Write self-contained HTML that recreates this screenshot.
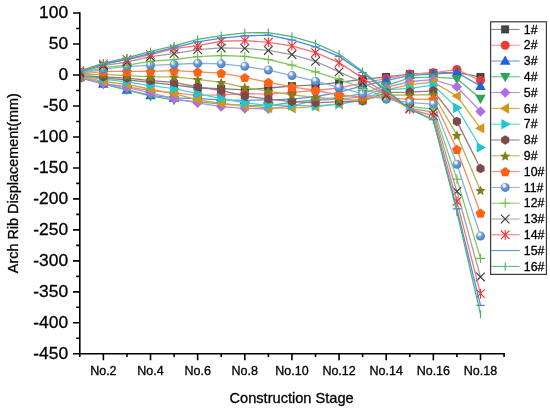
<!DOCTYPE html>
<html><head><meta charset="utf-8"><title>Arch Rib Displacement</title>
<style>html,body{margin:0;padding:0;background:#fff;width:550px;height:410px;overflow:hidden}svg{display:block;filter:blur(0.3px)}</style>
</head><body>
<svg width="550" height="410" viewBox="0 0 550 410">
<defs><radialGradient id="sph" cx="0.4" cy="0.35" r="0.65" fx="0.38" fy="0.3"><stop offset="0" stop-color="#ffffff"/><stop offset="0.22" stop-color="#dce8f6"/><stop offset="0.45" stop-color="#6f9dd6"/><stop offset="1" stop-color="#4a7fc2"/></radialGradient><clipPath id="pc"><rect x="80.6" y="0" width="470" height="353"/></clipPath></defs>
<rect width="550" height="410" fill="#fff"/>
<g clip-path="url(#pc)">
<polyline points="79.80,76.24 103.37,78.10 126.94,79.96 150.51,82.43 174.08,84.91 197.65,88.01 221.22,88.63 244.79,89.87 268.36,88.01 291.93,86.15 315.50,84.91 339.07,82.43 362.64,79.34 386.21,76.86 409.78,74.07 433.35,72.83 456.92,72.52 480.49,76.86" fill="none" stroke="#7e7e7e" stroke-width="1.3"/>
<rect x="76.20" y="72.64" width="7.20" height="7.20" fill="#454545" stroke="#2a2a2a" stroke-width="0.6"/>
<rect x="99.77" y="74.50" width="7.20" height="7.20" fill="#454545" stroke="#2a2a2a" stroke-width="0.6"/>
<rect x="123.34" y="76.36" width="7.20" height="7.20" fill="#454545" stroke="#2a2a2a" stroke-width="0.6"/>
<rect x="146.91" y="78.83" width="7.20" height="7.20" fill="#454545" stroke="#2a2a2a" stroke-width="0.6"/>
<rect x="170.48" y="81.31" width="7.20" height="7.20" fill="#454545" stroke="#2a2a2a" stroke-width="0.6"/>
<rect x="194.05" y="84.41" width="7.20" height="7.20" fill="#454545" stroke="#2a2a2a" stroke-width="0.6"/>
<rect x="217.62" y="85.03" width="7.20" height="7.20" fill="#454545" stroke="#2a2a2a" stroke-width="0.6"/>
<rect x="241.19" y="86.27" width="7.20" height="7.20" fill="#454545" stroke="#2a2a2a" stroke-width="0.6"/>
<rect x="264.76" y="84.41" width="7.20" height="7.20" fill="#454545" stroke="#2a2a2a" stroke-width="0.6"/>
<rect x="288.33" y="82.55" width="7.20" height="7.20" fill="#454545" stroke="#2a2a2a" stroke-width="0.6"/>
<rect x="311.90" y="81.31" width="7.20" height="7.20" fill="#454545" stroke="#2a2a2a" stroke-width="0.6"/>
<rect x="335.47" y="78.83" width="7.20" height="7.20" fill="#454545" stroke="#2a2a2a" stroke-width="0.6"/>
<rect x="359.04" y="75.74" width="7.20" height="7.20" fill="#454545" stroke="#2a2a2a" stroke-width="0.6"/>
<rect x="382.61" y="73.26" width="7.20" height="7.20" fill="#454545" stroke="#2a2a2a" stroke-width="0.6"/>
<rect x="406.18" y="70.47" width="7.20" height="7.20" fill="#454545" stroke="#2a2a2a" stroke-width="0.6"/>
<rect x="429.75" y="69.23" width="7.20" height="7.20" fill="#454545" stroke="#2a2a2a" stroke-width="0.6"/>
<rect x="453.32" y="68.92" width="7.20" height="7.20" fill="#454545" stroke="#2a2a2a" stroke-width="0.6"/>
<rect x="476.89" y="73.26" width="7.20" height="7.20" fill="#454545" stroke="#2a2a2a" stroke-width="0.6"/>
<polyline points="79.80,78.10 103.37,83.67 126.94,86.77 150.51,90.49 174.08,92.97 197.65,95.44 221.22,94.82 244.79,93.59 268.36,94.20 291.93,92.35 315.50,90.49 339.07,88.01 362.64,83.05 386.21,78.72 409.78,74.07 433.35,72.83 456.92,69.42 480.49,80.58" fill="none" stroke="#f08a8a" stroke-width="1.3"/>
<circle cx="79.80" cy="78.10" r="4.5" fill="#ec3a3a"/>
<circle cx="103.37" cy="83.67" r="4.5" fill="#ec3a3a"/>
<circle cx="126.94" cy="86.77" r="4.5" fill="#ec3a3a"/>
<circle cx="150.51" cy="90.49" r="4.5" fill="#ec3a3a"/>
<circle cx="174.08" cy="92.97" r="4.5" fill="#ec3a3a"/>
<circle cx="197.65" cy="95.44" r="4.5" fill="#ec3a3a"/>
<circle cx="221.22" cy="94.82" r="4.5" fill="#ec3a3a"/>
<circle cx="244.79" cy="93.59" r="4.5" fill="#ec3a3a"/>
<circle cx="268.36" cy="94.20" r="4.5" fill="#ec3a3a"/>
<circle cx="291.93" cy="92.35" r="4.5" fill="#ec3a3a"/>
<circle cx="315.50" cy="90.49" r="4.5" fill="#ec3a3a"/>
<circle cx="339.07" cy="88.01" r="4.5" fill="#ec3a3a"/>
<circle cx="362.64" cy="83.05" r="4.5" fill="#ec3a3a"/>
<circle cx="386.21" cy="78.72" r="4.5" fill="#ec3a3a"/>
<circle cx="409.78" cy="74.07" r="4.5" fill="#ec3a3a"/>
<circle cx="433.35" cy="72.83" r="4.5" fill="#ec3a3a"/>
<circle cx="456.92" cy="69.42" r="4.5" fill="#ec3a3a"/>
<circle cx="480.49" cy="80.58" r="4.5" fill="#ec3a3a"/>
<polyline points="79.80,77.48 103.37,83.98 126.94,89.87 150.51,95.44 174.08,97.92 197.65,98.54 221.22,99.78 244.79,100.40 268.36,99.78 291.93,99.16 315.50,96.68 339.07,92.35 362.64,85.53 386.21,80.58 409.78,75.31 433.35,74.07 456.92,72.52 480.49,86.15" fill="none" stroke="#5c90e8" stroke-width="1.3"/>
<polygon points="79.80,71.98 85.10,81.28 74.50,81.28" fill="#1f62e0"/>
<polygon points="103.37,78.48 108.67,87.78 98.07,87.78" fill="#1f62e0"/>
<polygon points="126.94,84.37 132.24,93.67 121.64,93.67" fill="#1f62e0"/>
<polygon points="150.51,89.94 155.81,99.24 145.21,99.24" fill="#1f62e0"/>
<polygon points="174.08,92.42 179.38,101.72 168.78,101.72" fill="#1f62e0"/>
<polygon points="197.65,93.04 202.95,102.34 192.35,102.34" fill="#1f62e0"/>
<polygon points="221.22,94.28 226.52,103.58 215.92,103.58" fill="#1f62e0"/>
<polygon points="244.79,94.90 250.09,104.20 239.49,104.20" fill="#1f62e0"/>
<polygon points="268.36,94.28 273.66,103.58 263.06,103.58" fill="#1f62e0"/>
<polygon points="291.93,93.66 297.23,102.96 286.63,102.96" fill="#1f62e0"/>
<polygon points="315.50,91.18 320.80,100.48 310.20,100.48" fill="#1f62e0"/>
<polygon points="339.07,86.85 344.37,96.15 333.77,96.15" fill="#1f62e0"/>
<polygon points="362.64,80.03 367.94,89.33 357.34,89.33" fill="#1f62e0"/>
<polygon points="386.21,75.08 391.51,84.38 380.91,84.38" fill="#1f62e0"/>
<polygon points="409.78,69.81 415.08,79.11 404.48,79.11" fill="#1f62e0"/>
<polygon points="433.35,68.57 438.65,77.87 428.05,77.87" fill="#1f62e0"/>
<polygon points="456.92,67.02 462.22,76.32 451.62,76.32" fill="#1f62e0"/>
<polygon points="480.49,80.65 485.79,89.95 475.19,89.95" fill="#1f62e0"/>
<polyline points="79.80,76.86 103.37,83.98 126.94,89.87 150.51,96.06 174.08,99.78 197.65,101.64 221.22,104.12 244.79,105.36 268.36,105.97 291.93,102.26 315.50,99.78 339.07,97.30 362.64,93.59 386.21,85.53 409.78,77.79 433.35,77.17 456.92,78.72 480.49,98.54" fill="none" stroke="#5cb884" stroke-width="1.3"/>
<polygon points="79.80,82.36 85.10,73.06 74.50,73.06" fill="#2ea35e"/>
<polygon points="103.37,89.48 108.67,80.18 98.07,80.18" fill="#2ea35e"/>
<polygon points="126.94,95.37 132.24,86.07 121.64,86.07" fill="#2ea35e"/>
<polygon points="150.51,101.56 155.81,92.26 145.21,92.26" fill="#2ea35e"/>
<polygon points="174.08,105.28 179.38,95.98 168.78,95.98" fill="#2ea35e"/>
<polygon points="197.65,107.14 202.95,97.84 192.35,97.84" fill="#2ea35e"/>
<polygon points="221.22,109.62 226.52,100.32 215.92,100.32" fill="#2ea35e"/>
<polygon points="244.79,110.86 250.09,101.56 239.49,101.56" fill="#2ea35e"/>
<polygon points="268.36,111.47 273.66,102.17 263.06,102.17" fill="#2ea35e"/>
<polygon points="291.93,107.76 297.23,98.46 286.63,98.46" fill="#2ea35e"/>
<polygon points="315.50,105.28 320.80,95.98 310.20,95.98" fill="#2ea35e"/>
<polygon points="339.07,102.80 344.37,93.50 333.77,93.50" fill="#2ea35e"/>
<polygon points="362.64,99.09 367.94,89.79 357.34,89.79" fill="#2ea35e"/>
<polygon points="386.21,91.03 391.51,81.73 380.91,81.73" fill="#2ea35e"/>
<polygon points="409.78,83.29 415.08,73.99 404.48,73.99" fill="#2ea35e"/>
<polygon points="433.35,82.67 438.65,73.37 428.05,73.37" fill="#2ea35e"/>
<polygon points="456.92,84.22 462.22,74.92 451.62,74.92" fill="#2ea35e"/>
<polygon points="480.49,104.04 485.79,94.74 475.19,94.74" fill="#2ea35e"/>
<polyline points="79.80,76.86 103.37,83.36 126.94,87.39 150.51,92.97 174.08,98.54 197.65,102.88 221.22,106.59 244.79,108.45 268.36,108.76 291.93,105.97 315.50,100.40 339.07,99.16 362.64,96.68 386.21,87.39 409.78,81.50 433.35,79.65 456.92,86.77 480.49,111.55" fill="none" stroke="#b888ea" stroke-width="1.3"/>
<polygon points="79.80,71.66 85.00,76.86 79.80,82.06 74.60,76.86" fill="#b06ee6"/>
<polygon points="103.37,78.16 108.57,83.36 103.37,88.56 98.17,83.36" fill="#b06ee6"/>
<polygon points="126.94,82.19 132.14,87.39 126.94,92.59 121.74,87.39" fill="#b06ee6"/>
<polygon points="150.51,87.77 155.71,92.97 150.51,98.17 145.31,92.97" fill="#b06ee6"/>
<polygon points="174.08,93.34 179.28,98.54 174.08,103.74 168.88,98.54" fill="#b06ee6"/>
<polygon points="197.65,97.68 202.85,102.88 197.65,108.08 192.45,102.88" fill="#b06ee6"/>
<polygon points="221.22,101.39 226.42,106.59 221.22,111.79 216.02,106.59" fill="#b06ee6"/>
<polygon points="244.79,103.25 249.99,108.45 244.79,113.65 239.59,108.45" fill="#b06ee6"/>
<polygon points="268.36,103.56 273.56,108.76 268.36,113.96 263.16,108.76" fill="#b06ee6"/>
<polygon points="291.93,100.77 297.13,105.97 291.93,111.17 286.73,105.97" fill="#b06ee6"/>
<polygon points="315.50,95.20 320.70,100.40 315.50,105.60 310.30,100.40" fill="#b06ee6"/>
<polygon points="339.07,93.96 344.27,99.16 339.07,104.36 333.87,99.16" fill="#b06ee6"/>
<polygon points="362.64,91.48 367.84,96.68 362.64,101.88 357.44,96.68" fill="#b06ee6"/>
<polygon points="386.21,82.19 391.41,87.39 386.21,92.59 381.01,87.39" fill="#b06ee6"/>
<polygon points="409.78,76.30 414.98,81.50 409.78,86.70 404.58,81.50" fill="#b06ee6"/>
<polygon points="433.35,74.45 438.55,79.65 433.35,84.85 428.15,79.65" fill="#b06ee6"/>
<polygon points="456.92,81.57 462.12,86.77 456.92,91.97 451.72,86.77" fill="#b06ee6"/>
<polygon points="480.49,106.35 485.69,111.55 480.49,116.75 475.29,111.55" fill="#b06ee6"/>
<polyline points="79.80,76.24 103.37,81.50 126.94,84.29 150.51,89.25 174.08,93.59 197.65,99.78 221.22,103.50 244.79,105.97 268.36,107.83 291.93,108.14 315.50,106.59 339.07,104.12 362.64,99.78 386.21,89.87 409.78,84.60 433.35,82.12 456.92,96.06 480.49,128.28" fill="none" stroke="#d6a43a" stroke-width="1.3"/>
<polygon points="74.30,76.24 83.60,70.94 83.60,81.54" fill="#d0971a"/>
<polygon points="97.87,81.50 107.17,76.20 107.17,86.80" fill="#d0971a"/>
<polygon points="121.44,84.29 130.74,78.99 130.74,89.59" fill="#d0971a"/>
<polygon points="145.01,89.25 154.31,83.95 154.31,94.55" fill="#d0971a"/>
<polygon points="168.58,93.59 177.88,88.29 177.88,98.89" fill="#d0971a"/>
<polygon points="192.15,99.78 201.45,94.48 201.45,105.08" fill="#d0971a"/>
<polygon points="215.72,103.50 225.02,98.20 225.02,108.80" fill="#d0971a"/>
<polygon points="239.29,105.97 248.59,100.67 248.59,111.27" fill="#d0971a"/>
<polygon points="262.86,107.83 272.16,102.53 272.16,113.13" fill="#d0971a"/>
<polygon points="286.43,108.14 295.73,102.84 295.73,113.44" fill="#d0971a"/>
<polygon points="310.00,106.59 319.30,101.29 319.30,111.89" fill="#d0971a"/>
<polygon points="333.57,104.12 342.87,98.82 342.87,109.42" fill="#d0971a"/>
<polygon points="357.14,99.78 366.44,94.48 366.44,105.08" fill="#d0971a"/>
<polygon points="380.71,89.87 390.01,84.57 390.01,95.17" fill="#d0971a"/>
<polygon points="404.28,84.60 413.58,79.30 413.58,89.90" fill="#d0971a"/>
<polygon points="427.85,82.12 437.15,76.82 437.15,87.42" fill="#d0971a"/>
<polygon points="451.42,96.06 460.72,90.76 460.72,101.36" fill="#d0971a"/>
<polygon points="474.99,128.28 484.29,122.98 484.29,133.58" fill="#d0971a"/>
<polyline points="79.80,75.62 103.37,79.03 126.94,81.81 150.51,85.53 174.08,88.63 197.65,93.59 221.22,98.54 244.79,102.88 268.36,105.36 291.93,105.36 315.50,105.97 339.07,104.12 362.64,99.78 386.21,89.87 409.78,88.32 433.35,85.22 456.92,107.83 480.49,147.48" fill="none" stroke="#48d0d6" stroke-width="1.3"/>
<polygon points="85.30,75.62 76.00,70.32 76.00,80.92" fill="#1fc6cc"/>
<polygon points="108.87,79.03 99.57,73.73 99.57,84.33" fill="#1fc6cc"/>
<polygon points="132.44,81.81 123.14,76.51 123.14,87.11" fill="#1fc6cc"/>
<polygon points="156.01,85.53 146.71,80.23 146.71,90.83" fill="#1fc6cc"/>
<polygon points="179.58,88.63 170.28,83.33 170.28,93.93" fill="#1fc6cc"/>
<polygon points="203.15,93.59 193.85,88.29 193.85,98.89" fill="#1fc6cc"/>
<polygon points="226.72,98.54 217.42,93.24 217.42,103.84" fill="#1fc6cc"/>
<polygon points="250.29,102.88 240.99,97.58 240.99,108.18" fill="#1fc6cc"/>
<polygon points="273.86,105.36 264.56,100.06 264.56,110.66" fill="#1fc6cc"/>
<polygon points="297.43,105.36 288.13,100.06 288.13,110.66" fill="#1fc6cc"/>
<polygon points="321.00,105.97 311.70,100.67 311.70,111.27" fill="#1fc6cc"/>
<polygon points="344.57,104.12 335.27,98.82 335.27,109.42" fill="#1fc6cc"/>
<polygon points="368.14,99.78 358.84,94.48 358.84,105.08" fill="#1fc6cc"/>
<polygon points="391.71,89.87 382.41,84.57 382.41,95.17" fill="#1fc6cc"/>
<polygon points="415.28,88.32 405.98,83.02 405.98,93.62" fill="#1fc6cc"/>
<polygon points="438.85,85.22 429.55,79.92 429.55,90.52" fill="#1fc6cc"/>
<polygon points="462.42,107.83 453.12,102.53 453.12,113.13" fill="#1fc6cc"/>
<polygon points="485.99,147.48 476.69,142.18 476.69,152.78" fill="#1fc6cc"/>
<polyline points="79.80,75.62 103.37,76.86 126.94,78.10 150.51,80.58 174.08,82.43 197.65,86.77 221.22,90.49 244.79,96.06 268.36,99.16 291.93,101.64 315.50,102.88 339.07,101.64 362.64,101.02 386.21,92.35 409.78,92.04 433.35,90.80 456.92,121.46 480.49,168.54" fill="none" stroke="#9c7474" stroke-width="1.3"/>
<polygon points="79.80,80.32 75.73,77.97 75.73,73.27 79.80,70.92 83.87,73.27 83.87,77.97" fill="#7a4a4a"/>
<polygon points="103.37,81.56 99.30,79.21 99.30,74.51 103.37,72.16 107.44,74.51 107.44,79.21" fill="#7a4a4a"/>
<polygon points="126.94,82.80 122.87,80.45 122.87,75.75 126.94,73.40 131.01,75.75 131.01,80.45" fill="#7a4a4a"/>
<polygon points="150.51,85.28 146.44,82.93 146.44,78.23 150.51,75.88 154.58,78.23 154.58,82.93" fill="#7a4a4a"/>
<polygon points="174.08,87.13 170.01,84.78 170.01,80.08 174.08,77.73 178.15,80.08 178.15,84.78" fill="#7a4a4a"/>
<polygon points="197.65,91.47 193.58,89.12 193.58,84.42 197.65,82.07 201.72,84.42 201.72,89.12" fill="#7a4a4a"/>
<polygon points="221.22,95.19 217.15,92.84 217.15,88.14 221.22,85.79 225.29,88.14 225.29,92.84" fill="#7a4a4a"/>
<polygon points="244.79,100.76 240.72,98.41 240.72,93.71 244.79,91.36 248.86,93.71 248.86,98.41" fill="#7a4a4a"/>
<polygon points="268.36,103.86 264.29,101.51 264.29,96.81 268.36,94.46 272.43,96.81 272.43,101.51" fill="#7a4a4a"/>
<polygon points="291.93,106.34 287.86,103.99 287.86,99.29 291.93,96.94 296.00,99.29 296.00,103.99" fill="#7a4a4a"/>
<polygon points="315.50,107.58 311.43,105.23 311.43,100.53 315.50,98.18 319.57,100.53 319.57,105.23" fill="#7a4a4a"/>
<polygon points="339.07,106.34 335.00,103.99 335.00,99.29 339.07,96.94 343.14,99.29 343.14,103.99" fill="#7a4a4a"/>
<polygon points="362.64,105.72 358.57,103.37 358.57,98.67 362.64,96.32 366.71,98.67 366.71,103.37" fill="#7a4a4a"/>
<polygon points="386.21,97.05 382.14,94.70 382.14,90.00 386.21,87.65 390.28,90.00 390.28,94.70" fill="#7a4a4a"/>
<polygon points="409.78,96.74 405.71,94.39 405.71,89.69 409.78,87.34 413.85,89.69 413.85,94.39" fill="#7a4a4a"/>
<polygon points="433.35,95.50 429.28,93.15 429.28,88.45 433.35,86.10 437.42,88.45 437.42,93.15" fill="#7a4a4a"/>
<polygon points="456.92,126.16 452.85,123.81 452.85,119.11 456.92,116.76 460.99,119.11 460.99,123.81" fill="#7a4a4a"/>
<polygon points="480.49,173.24 476.42,170.89 476.42,166.19 480.49,163.84 484.56,166.19 484.56,170.89" fill="#7a4a4a"/>
<polyline points="79.80,75.00 103.37,74.38 126.94,75.62 150.51,76.86 174.08,76.86 197.65,79.34 221.22,82.43 244.79,87.39 268.36,91.11 291.93,94.82 315.50,97.30 339.07,99.16 362.64,100.40 386.21,94.82 409.78,95.13 433.35,94.51 456.92,135.09 480.49,190.23" fill="none" stroke="#b2b258" stroke-width="1.3"/>
<polygon points="79.80,70.20 81.27,73.58 84.94,73.93 82.18,76.37 82.97,79.97 79.80,78.10 76.63,79.97 77.42,76.37 74.66,73.93 78.33,73.58" fill="#80801a"/>
<polygon points="103.37,69.58 104.84,72.96 108.51,73.31 105.75,75.75 106.54,79.35 103.37,77.48 100.20,79.35 100.99,75.75 98.23,73.31 101.90,72.96" fill="#80801a"/>
<polygon points="126.94,70.82 128.41,74.20 132.08,74.55 129.32,76.99 130.11,80.59 126.94,78.72 123.77,80.59 124.56,76.99 121.80,74.55 125.47,74.20" fill="#80801a"/>
<polygon points="150.51,72.06 151.98,75.44 155.65,75.79 152.89,78.23 153.68,81.83 150.51,79.96 147.34,81.83 148.13,78.23 145.37,75.79 149.04,75.44" fill="#80801a"/>
<polygon points="174.08,72.06 175.55,75.44 179.22,75.79 176.46,78.23 177.25,81.83 174.08,79.96 170.91,81.83 171.70,78.23 168.94,75.79 172.61,75.44" fill="#80801a"/>
<polygon points="197.65,74.54 199.12,77.91 202.79,78.27 200.03,80.71 200.82,84.31 197.65,82.44 194.48,84.31 195.27,80.71 192.51,78.27 196.18,77.91" fill="#80801a"/>
<polygon points="221.22,77.63 222.69,81.01 226.36,81.37 223.60,83.81 224.39,87.40 221.22,85.53 218.05,87.40 218.84,83.81 216.08,81.37 219.75,81.01" fill="#80801a"/>
<polygon points="244.79,82.59 246.26,85.97 249.93,86.32 247.17,88.76 247.96,92.36 244.79,90.49 241.62,92.36 242.41,88.76 239.65,86.32 243.32,85.97" fill="#80801a"/>
<polygon points="268.36,86.31 269.83,89.68 273.50,90.04 270.74,92.48 271.53,96.08 268.36,94.21 265.19,96.08 265.98,92.48 263.22,90.04 266.89,89.68" fill="#80801a"/>
<polygon points="291.93,90.02 293.40,93.40 297.07,93.76 294.31,96.20 295.10,99.79 291.93,97.92 288.76,99.79 289.55,96.20 286.79,93.76 290.46,93.40" fill="#80801a"/>
<polygon points="315.50,92.50 316.97,95.88 320.64,96.23 317.88,98.67 318.67,102.27 315.50,100.40 312.33,102.27 313.12,98.67 310.36,96.23 314.03,95.88" fill="#80801a"/>
<polygon points="339.07,94.36 340.54,97.74 344.21,98.09 341.45,100.53 342.24,104.13 339.07,102.26 335.90,104.13 336.69,100.53 333.93,98.09 337.60,97.74" fill="#80801a"/>
<polygon points="362.64,95.60 364.11,98.98 367.78,99.33 365.02,101.77 365.81,105.37 362.64,103.50 359.47,105.37 360.26,101.77 357.50,99.33 361.17,98.98" fill="#80801a"/>
<polygon points="386.21,90.02 387.68,93.40 391.35,93.76 388.59,96.20 389.38,99.79 386.21,97.92 383.04,99.79 383.83,96.20 381.07,93.76 384.74,93.40" fill="#80801a"/>
<polygon points="409.78,90.33 411.25,93.71 414.92,94.07 412.16,96.51 412.95,100.10 409.78,98.23 406.61,100.10 407.40,96.51 404.64,94.07 408.31,93.71" fill="#80801a"/>
<polygon points="433.35,89.71 434.82,93.09 438.49,93.45 435.73,95.89 436.52,99.48 433.35,97.61 430.18,99.48 430.97,95.89 428.21,93.45 431.88,93.09" fill="#80801a"/>
<polygon points="456.92,130.29 458.39,133.67 462.06,134.02 459.30,136.46 460.09,140.06 456.92,138.19 453.75,140.06 454.54,136.46 451.78,134.02 455.45,133.67" fill="#80801a"/>
<polygon points="480.49,185.43 481.96,188.80 485.63,189.16 482.87,191.60 483.66,195.20 480.49,193.33 477.32,195.20 478.11,191.60 475.35,189.16 479.02,188.80" fill="#80801a"/>
<polyline points="79.80,74.38 103.37,71.28 126.94,71.28 150.51,71.28 174.08,70.66 197.65,71.90 221.22,73.14 244.79,77.48 268.36,82.43 291.93,86.77 315.50,90.49 339.07,94.82 362.64,96.99 386.21,97.92 409.78,99.47 433.35,99.16 456.92,149.34 480.49,213.15" fill="none" stroke="#f78c56" stroke-width="1.3"/>
<polygon points="79.80,69.78 84.65,73.30 82.80,79.01 76.80,79.01 74.95,73.30" fill="#ff6212"/>
<polygon points="103.37,66.68 108.22,70.21 106.37,75.91 100.37,75.91 98.52,70.21" fill="#ff6212"/>
<polygon points="126.94,66.68 131.79,70.21 129.94,75.91 123.94,75.91 122.09,70.21" fill="#ff6212"/>
<polygon points="150.51,66.68 155.36,70.21 153.51,75.91 147.51,75.91 145.66,70.21" fill="#ff6212"/>
<polygon points="174.08,66.06 178.93,69.59 177.08,75.29 171.08,75.29 169.23,69.59" fill="#ff6212"/>
<polygon points="197.65,67.30 202.50,70.83 200.65,76.53 194.65,76.53 192.80,70.83" fill="#ff6212"/>
<polygon points="221.22,68.54 226.07,72.07 224.22,77.77 218.22,77.77 216.37,72.07" fill="#ff6212"/>
<polygon points="244.79,72.88 249.64,76.40 247.79,82.10 241.79,82.10 239.94,76.40" fill="#ff6212"/>
<polygon points="268.36,77.83 273.21,81.36 271.36,87.06 265.36,87.06 263.51,81.36" fill="#ff6212"/>
<polygon points="291.93,82.17 296.78,85.69 294.93,91.40 288.93,91.40 287.08,85.69" fill="#ff6212"/>
<polygon points="315.50,85.89 320.35,89.41 318.50,95.11 312.50,95.11 310.65,89.41" fill="#ff6212"/>
<polygon points="339.07,90.22 343.92,93.75 342.07,99.45 336.07,99.45 334.22,93.75" fill="#ff6212"/>
<polygon points="362.64,92.39 367.49,95.92 365.64,101.62 359.64,101.62 357.79,95.92" fill="#ff6212"/>
<polygon points="386.21,93.32 391.06,96.85 389.21,102.55 383.21,102.55 381.36,96.85" fill="#ff6212"/>
<polygon points="409.78,94.87 414.63,98.39 412.78,104.10 406.78,104.10 404.93,98.39" fill="#ff6212"/>
<polygon points="433.35,94.56 438.20,98.08 436.35,103.79 430.35,103.79 428.50,98.08" fill="#ff6212"/>
<polygon points="456.92,144.74 461.77,148.26 459.92,153.97 453.92,153.97 452.07,148.26" fill="#ff6212"/>
<polygon points="480.49,208.55 485.34,212.07 483.49,217.77 477.49,217.77 475.64,212.07" fill="#ff6212"/>
<polyline points="79.80,73.76 103.37,69.11 126.94,66.33 150.51,65.40 174.08,64.47 197.65,63.23 221.22,63.85 244.79,66.33 268.36,70.04 291.93,75.62 315.50,81.19 339.07,87.39 362.64,93.89 386.21,99.16 409.78,102.57 433.35,104.12 456.92,164.21 480.49,236.07" fill="none" stroke="#8ab0e0" stroke-width="1.3"/>
<circle cx="79.80" cy="73.76" r="4.5" fill="url(#sph)"/>
<circle cx="103.37" cy="69.11" r="4.5" fill="url(#sph)"/>
<circle cx="126.94" cy="66.33" r="4.5" fill="url(#sph)"/>
<circle cx="150.51" cy="65.40" r="4.5" fill="url(#sph)"/>
<circle cx="174.08" cy="64.47" r="4.5" fill="url(#sph)"/>
<circle cx="197.65" cy="63.23" r="4.5" fill="url(#sph)"/>
<circle cx="221.22" cy="63.85" r="4.5" fill="url(#sph)"/>
<circle cx="244.79" cy="66.33" r="4.5" fill="url(#sph)"/>
<circle cx="268.36" cy="70.04" r="4.5" fill="url(#sph)"/>
<circle cx="291.93" cy="75.62" r="4.5" fill="url(#sph)"/>
<circle cx="315.50" cy="81.19" r="4.5" fill="url(#sph)"/>
<circle cx="339.07" cy="87.39" r="4.5" fill="url(#sph)"/>
<circle cx="362.64" cy="93.89" r="4.5" fill="url(#sph)"/>
<circle cx="386.21" cy="99.16" r="4.5" fill="url(#sph)"/>
<circle cx="409.78" cy="102.57" r="4.5" fill="url(#sph)"/>
<circle cx="433.35" cy="104.12" r="4.5" fill="url(#sph)"/>
<circle cx="456.92" cy="164.21" r="4.5" fill="url(#sph)"/>
<circle cx="480.49" cy="236.07" r="4.5" fill="url(#sph)"/>
<polyline points="79.80,73.14 103.37,67.57 126.94,65.09 150.51,61.37 174.08,59.51 197.65,56.72 221.22,55.49 244.79,56.41 268.36,59.51 291.93,65.09 315.50,71.90 339.07,79.34 362.64,88.01 386.21,97.30 409.78,106.59 433.35,109.07 456.92,179.08 480.49,258.37" fill="none" stroke="#84c866" stroke-width="1.3"/>
<path d="M75.20 73.14H84.40M79.80 68.54V77.74" stroke="#6cbf3c" stroke-width="1.1" fill="none"/>
<path d="M98.77 67.57H107.97M103.37 62.97V72.17" stroke="#6cbf3c" stroke-width="1.1" fill="none"/>
<path d="M122.34 65.09H131.54M126.94 60.49V69.69" stroke="#6cbf3c" stroke-width="1.1" fill="none"/>
<path d="M145.91 61.37H155.11M150.51 56.77V65.97" stroke="#6cbf3c" stroke-width="1.1" fill="none"/>
<path d="M169.48 59.51H178.68M174.08 54.91V64.11" stroke="#6cbf3c" stroke-width="1.1" fill="none"/>
<path d="M193.05 56.72H202.25M197.65 52.12V61.32" stroke="#6cbf3c" stroke-width="1.1" fill="none"/>
<path d="M216.62 55.49H225.82M221.22 50.89V60.09" stroke="#6cbf3c" stroke-width="1.1" fill="none"/>
<path d="M240.19 56.41H249.39M244.79 51.81V61.02" stroke="#6cbf3c" stroke-width="1.1" fill="none"/>
<path d="M263.76 59.51H272.96M268.36 54.91V64.11" stroke="#6cbf3c" stroke-width="1.1" fill="none"/>
<path d="M287.33 65.09H296.53M291.93 60.49V69.69" stroke="#6cbf3c" stroke-width="1.1" fill="none"/>
<path d="M310.90 71.90H320.10M315.50 67.30V76.50" stroke="#6cbf3c" stroke-width="1.1" fill="none"/>
<path d="M334.47 79.34H343.67M339.07 74.74V83.94" stroke="#6cbf3c" stroke-width="1.1" fill="none"/>
<path d="M358.04 88.01H367.24M362.64 83.41V92.61" stroke="#6cbf3c" stroke-width="1.1" fill="none"/>
<path d="M381.61 97.30H390.81M386.21 92.70V101.90" stroke="#6cbf3c" stroke-width="1.1" fill="none"/>
<path d="M405.18 106.59H414.38M409.78 101.99V111.19" stroke="#6cbf3c" stroke-width="1.1" fill="none"/>
<path d="M428.75 109.07H437.95M433.35 104.47V113.67" stroke="#6cbf3c" stroke-width="1.1" fill="none"/>
<path d="M452.32 179.08H461.52M456.92 174.48V183.68" stroke="#6cbf3c" stroke-width="1.1" fill="none"/>
<path d="M475.89 258.37H485.09M480.49 253.77V262.97" stroke="#6cbf3c" stroke-width="1.1" fill="none"/>
<polyline points="79.80,72.52 103.37,65.71 126.94,61.99 150.51,56.72 174.08,53.63 197.65,49.60 221.22,47.93 244.79,48.36 268.36,50.41 291.93,54.56 315.50,61.37 339.07,71.90 362.64,82.43 386.21,95.44 409.78,108.45 433.35,112.17 456.92,191.47 480.49,276.96" fill="none" stroke="#a0a0a0" stroke-width="1.3"/>
<path d="M75.50 68.22L84.10 76.82M75.50 76.82L84.10 68.22" stroke="#404040" stroke-width="1.2" fill="none"/>
<path d="M99.07 61.41L107.67 70.01M99.07 70.01L107.67 61.41" stroke="#404040" stroke-width="1.2" fill="none"/>
<path d="M122.64 57.69L131.24 66.29M122.64 66.29L131.24 57.69" stroke="#404040" stroke-width="1.2" fill="none"/>
<path d="M146.21 52.42L154.81 61.02M146.21 61.02L154.81 52.42" stroke="#404040" stroke-width="1.2" fill="none"/>
<path d="M169.78 49.33L178.38 57.93M169.78 57.93L178.38 49.33" stroke="#404040" stroke-width="1.2" fill="none"/>
<path d="M193.35 45.30L201.95 53.90M193.35 53.90L201.95 45.30" stroke="#404040" stroke-width="1.2" fill="none"/>
<path d="M216.92 43.63L225.52 52.23M216.92 52.23L225.52 43.63" stroke="#404040" stroke-width="1.2" fill="none"/>
<path d="M240.49 44.06L249.09 52.66M240.49 52.66L249.09 44.06" stroke="#404040" stroke-width="1.2" fill="none"/>
<path d="M264.06 46.11L272.66 54.71M264.06 54.71L272.66 46.11" stroke="#404040" stroke-width="1.2" fill="none"/>
<path d="M287.63 50.26L296.23 58.86M287.63 58.86L296.23 50.26" stroke="#404040" stroke-width="1.2" fill="none"/>
<path d="M311.20 57.07L319.80 65.67M311.20 65.67L319.80 57.07" stroke="#404040" stroke-width="1.2" fill="none"/>
<path d="M334.77 67.60L343.37 76.20M334.77 76.20L343.37 67.60" stroke="#404040" stroke-width="1.2" fill="none"/>
<path d="M358.34 78.13L366.94 86.73M358.34 86.73L366.94 78.13" stroke="#404040" stroke-width="1.2" fill="none"/>
<path d="M381.91 91.14L390.51 99.74M381.91 99.74L390.51 91.14" stroke="#404040" stroke-width="1.2" fill="none"/>
<path d="M405.48 104.15L414.08 112.75M405.48 112.75L414.08 104.15" stroke="#404040" stroke-width="1.2" fill="none"/>
<path d="M429.05 107.87L437.65 116.47M429.05 116.47L437.65 107.87" stroke="#404040" stroke-width="1.2" fill="none"/>
<path d="M452.62 187.17L461.22 195.77M452.62 195.77L461.22 187.17" stroke="#404040" stroke-width="1.2" fill="none"/>
<path d="M476.19 272.66L484.79 281.26M476.19 281.26L484.79 272.66" stroke="#404040" stroke-width="1.2" fill="none"/>
<polyline points="79.80,70.66 103.37,63.85 126.94,59.51 150.51,54.56 174.08,48.67 197.65,45.70 221.22,41.24 244.79,40.62 268.36,42.29 291.93,45.88 315.50,52.70 339.07,62.61 362.64,78.10 386.21,93.59 409.78,109.07 433.35,115.89 456.92,201.38 480.49,293.68" fill="none" stroke="#f07474" stroke-width="1.3"/>
<path d="M75.50 66.36L84.10 74.96M75.50 74.96L84.10 66.36M79.80 65.76V75.56" stroke="#f03232" stroke-width="1.1" fill="none"/>
<path d="M99.07 59.55L107.67 68.15M99.07 68.15L107.67 59.55M103.37 58.95V68.75" stroke="#f03232" stroke-width="1.1" fill="none"/>
<path d="M122.64 55.21L131.24 63.81M122.64 63.81L131.24 55.21M126.94 54.61V64.41" stroke="#f03232" stroke-width="1.1" fill="none"/>
<path d="M146.21 50.26L154.81 58.86M146.21 58.86L154.81 50.26M150.51 49.66V59.46" stroke="#f03232" stroke-width="1.1" fill="none"/>
<path d="M169.78 44.37L178.38 52.97M169.78 52.97L178.38 44.37M174.08 43.77V53.57" stroke="#f03232" stroke-width="1.1" fill="none"/>
<path d="M193.35 41.40L201.95 50.00M193.35 50.00L201.95 41.40M197.65 40.80V50.60" stroke="#f03232" stroke-width="1.1" fill="none"/>
<path d="M216.92 36.94L225.52 45.54M216.92 45.54L225.52 36.94M221.22 36.34V46.14" stroke="#f03232" stroke-width="1.1" fill="none"/>
<path d="M240.49 36.32L249.09 44.92M240.49 44.92L249.09 36.32M244.79 35.72V45.52" stroke="#f03232" stroke-width="1.1" fill="none"/>
<path d="M264.06 37.99L272.66 46.59M264.06 46.59L272.66 37.99M268.36 37.39V47.19" stroke="#f03232" stroke-width="1.1" fill="none"/>
<path d="M287.63 41.58L296.23 50.18M287.63 50.18L296.23 41.58M291.93 40.98V50.78" stroke="#f03232" stroke-width="1.1" fill="none"/>
<path d="M311.20 48.40L319.80 57.00M311.20 57.00L319.80 48.40M315.50 47.80V57.60" stroke="#f03232" stroke-width="1.1" fill="none"/>
<path d="M334.77 58.31L343.37 66.91M334.77 66.91L343.37 58.31M339.07 57.71V67.51" stroke="#f03232" stroke-width="1.1" fill="none"/>
<path d="M358.34 73.80L366.94 82.40M358.34 82.40L366.94 73.80M362.64 73.20V83.00" stroke="#f03232" stroke-width="1.1" fill="none"/>
<path d="M381.91 89.29L390.51 97.89M381.91 97.89L390.51 89.29M386.21 88.69V98.48" stroke="#f03232" stroke-width="1.1" fill="none"/>
<path d="M405.48 104.77L414.08 113.37M405.48 113.37L414.08 104.77M409.78 104.17V113.97" stroke="#f03232" stroke-width="1.1" fill="none"/>
<path d="M429.05 111.59L437.65 120.19M429.05 120.19L437.65 111.59M433.35 110.99V120.79" stroke="#f03232" stroke-width="1.1" fill="none"/>
<path d="M452.62 197.08L461.22 205.68M452.62 205.68L461.22 197.08M456.92 196.48V206.28" stroke="#f03232" stroke-width="1.1" fill="none"/>
<path d="M476.19 289.38L484.79 297.98M476.19 297.98L484.79 289.38M480.49 288.78V298.58" stroke="#f03232" stroke-width="1.1" fill="none"/>
<polyline points="79.80,71.90 103.37,64.47 126.94,59.20 150.51,53.32 174.08,47.74 197.65,41.86 221.22,38.14 244.79,35.97 268.36,35.04 291.93,40.00 315.50,46.81 339.07,56.41 362.64,72.52 386.21,91.11 409.78,109.07 433.35,119.60 456.92,208.81 480.49,305.45" fill="none" stroke="#5288e2" stroke-width="1.3"/>
<path d="M75.60 71.90H84.00" stroke="#4a7fe0" stroke-width="1.2" fill="none"/>
<path d="M99.17 64.47H107.57" stroke="#4a7fe0" stroke-width="1.2" fill="none"/>
<path d="M122.74 59.20H131.14" stroke="#4a7fe0" stroke-width="1.2" fill="none"/>
<path d="M146.31 53.32H154.71" stroke="#4a7fe0" stroke-width="1.2" fill="none"/>
<path d="M169.88 47.74H178.28" stroke="#4a7fe0" stroke-width="1.2" fill="none"/>
<path d="M193.45 41.86H201.85" stroke="#4a7fe0" stroke-width="1.2" fill="none"/>
<path d="M217.02 38.14H225.42" stroke="#4a7fe0" stroke-width="1.2" fill="none"/>
<path d="M240.59 35.97H248.99" stroke="#4a7fe0" stroke-width="1.2" fill="none"/>
<path d="M264.16 35.04H272.56" stroke="#4a7fe0" stroke-width="1.2" fill="none"/>
<path d="M287.73 40.00H296.13" stroke="#4a7fe0" stroke-width="1.2" fill="none"/>
<path d="M311.30 46.81H319.70" stroke="#4a7fe0" stroke-width="1.2" fill="none"/>
<path d="M334.87 56.41H343.27" stroke="#4a7fe0" stroke-width="1.2" fill="none"/>
<path d="M358.44 72.52H366.84" stroke="#4a7fe0" stroke-width="1.2" fill="none"/>
<path d="M382.01 91.11H390.41" stroke="#4a7fe0" stroke-width="1.2" fill="none"/>
<path d="M405.58 109.07H413.98" stroke="#4a7fe0" stroke-width="1.2" fill="none"/>
<path d="M429.15 119.60H437.55" stroke="#4a7fe0" stroke-width="1.2" fill="none"/>
<path d="M452.72 208.81H461.12" stroke="#4a7fe0" stroke-width="1.2" fill="none"/>
<path d="M476.29 305.45H484.69" stroke="#4a7fe0" stroke-width="1.2" fill="none"/>
<polyline points="79.80,71.28 103.37,63.23 126.94,57.96 150.51,51.46 174.08,45.88 197.65,39.38 221.22,35.66 244.79,32.87 268.36,32.56 291.93,36.59 315.50,43.41 339.07,53.94 362.64,71.28 386.21,89.87 409.78,109.07 433.35,120.22 456.92,211.91 480.49,314.13" fill="none" stroke="#52b276" stroke-width="1.3"/>
<path d="M79.80 67.28V75.28" stroke="#3aad6a" stroke-width="1.1" fill="none"/>
<path d="M103.37 59.23V67.23" stroke="#3aad6a" stroke-width="1.1" fill="none"/>
<path d="M126.94 53.96V61.96" stroke="#3aad6a" stroke-width="1.1" fill="none"/>
<path d="M150.51 47.46V55.46" stroke="#3aad6a" stroke-width="1.1" fill="none"/>
<path d="M174.08 41.88V49.88" stroke="#3aad6a" stroke-width="1.1" fill="none"/>
<path d="M197.65 35.38V43.38" stroke="#3aad6a" stroke-width="1.1" fill="none"/>
<path d="M221.22 31.66V39.66" stroke="#3aad6a" stroke-width="1.1" fill="none"/>
<path d="M244.79 28.87V36.87" stroke="#3aad6a" stroke-width="1.1" fill="none"/>
<path d="M268.36 28.56V36.56" stroke="#3aad6a" stroke-width="1.1" fill="none"/>
<path d="M291.93 32.59V40.59" stroke="#3aad6a" stroke-width="1.1" fill="none"/>
<path d="M315.50 39.41V47.41" stroke="#3aad6a" stroke-width="1.1" fill="none"/>
<path d="M339.07 49.94V57.94" stroke="#3aad6a" stroke-width="1.1" fill="none"/>
<path d="M362.64 67.28V75.28" stroke="#3aad6a" stroke-width="1.1" fill="none"/>
<path d="M386.21 85.87V93.87" stroke="#3aad6a" stroke-width="1.1" fill="none"/>
<path d="M409.78 105.07V113.07" stroke="#3aad6a" stroke-width="1.1" fill="none"/>
<path d="M433.35 116.22V124.22" stroke="#3aad6a" stroke-width="1.1" fill="none"/>
<path d="M456.92 207.91V215.91" stroke="#3aad6a" stroke-width="1.1" fill="none"/>
<path d="M480.49 310.13V318.13" stroke="#3aad6a" stroke-width="1.1" fill="none"/>
</g>
<path d="M79.8 12.3V354.6M79 353.8H504.9" stroke="#000" stroke-width="1.6" fill="none"/>
<path d="M73 13.05H79.8M76.2 28.54H79.8M73 44.02H79.8M76.2 59.51H79.8M73 75.00H79.8M76.2 90.49H79.8M73 105.97H79.8M76.2 121.46H79.8M73 136.95H79.8M76.2 152.44H79.8M73 167.93H79.8M76.2 183.41H79.8M73 198.90H79.8M76.2 214.39H79.8M73 229.88H79.8M76.2 245.36H79.8M73 260.85H79.8M76.2 276.34H79.8M73 291.83H79.8M76.2 307.31H79.8M73 322.80H79.8M76.2 338.29H79.8M73 353.78H79.8M79.80 353.8V357M103.37 353.8V360.3M126.94 353.8V357M150.51 353.8V360.3M174.08 353.8V357M197.65 353.8V360.3M221.22 353.8V357M244.79 353.8V360.3M268.36 353.8V357M291.93 353.8V360.3M315.50 353.8V357M339.07 353.8V360.3M362.64 353.8V357M386.21 353.8V360.3M409.78 353.8V357M433.35 353.8V360.3M456.92 353.8V357M480.49 353.8V360.3M504.06 353.8V357" stroke="#000" stroke-width="1.6" fill="none"/>
<text x="68.1" y="17.95" font-family="Liberation Sans, Arial, sans-serif" stroke="#000" stroke-width="0.3" font-size="17.4" text-anchor="end">100</text>
<text x="68.1" y="48.92" font-family="Liberation Sans, Arial, sans-serif" stroke="#000" stroke-width="0.3" font-size="17.4" text-anchor="end">50</text>
<text x="68.1" y="79.90" font-family="Liberation Sans, Arial, sans-serif" stroke="#000" stroke-width="0.3" font-size="17.4" text-anchor="end">0</text>
<text x="68.1" y="110.88" font-family="Liberation Sans, Arial, sans-serif" stroke="#000" stroke-width="0.3" font-size="17.4" text-anchor="end">-50</text>
<text x="68.1" y="141.85" font-family="Liberation Sans, Arial, sans-serif" stroke="#000" stroke-width="0.3" font-size="17.4" text-anchor="end">-100</text>
<text x="68.1" y="172.83" font-family="Liberation Sans, Arial, sans-serif" stroke="#000" stroke-width="0.3" font-size="17.4" text-anchor="end">-150</text>
<text x="68.1" y="203.80" font-family="Liberation Sans, Arial, sans-serif" stroke="#000" stroke-width="0.3" font-size="17.4" text-anchor="end">-200</text>
<text x="68.1" y="234.78" font-family="Liberation Sans, Arial, sans-serif" stroke="#000" stroke-width="0.3" font-size="17.4" text-anchor="end">-250</text>
<text x="68.1" y="265.75" font-family="Liberation Sans, Arial, sans-serif" stroke="#000" stroke-width="0.3" font-size="17.4" text-anchor="end">-300</text>
<text x="68.1" y="296.73" font-family="Liberation Sans, Arial, sans-serif" stroke="#000" stroke-width="0.3" font-size="17.4" text-anchor="end">-350</text>
<text x="68.1" y="327.70" font-family="Liberation Sans, Arial, sans-serif" stroke="#000" stroke-width="0.3" font-size="17.4" text-anchor="end">-400</text>
<text x="68.1" y="358.68" font-family="Liberation Sans, Arial, sans-serif" stroke="#000" stroke-width="0.3" font-size="17.4" text-anchor="end">-450</text>
<text x="103.37" y="374.8" font-family="Liberation Sans, Arial, sans-serif" stroke="#000" stroke-width="0.3" font-size="12.5" text-anchor="middle">No.2</text>
<text x="150.51" y="374.8" font-family="Liberation Sans, Arial, sans-serif" stroke="#000" stroke-width="0.3" font-size="12.5" text-anchor="middle">No.4</text>
<text x="197.65" y="374.8" font-family="Liberation Sans, Arial, sans-serif" stroke="#000" stroke-width="0.3" font-size="12.5" text-anchor="middle">No.6</text>
<text x="244.79" y="374.8" font-family="Liberation Sans, Arial, sans-serif" stroke="#000" stroke-width="0.3" font-size="12.5" text-anchor="middle">No.8</text>
<text x="291.93" y="374.8" font-family="Liberation Sans, Arial, sans-serif" stroke="#000" stroke-width="0.3" font-size="12.5" text-anchor="middle">No.10</text>
<text x="339.07" y="374.8" font-family="Liberation Sans, Arial, sans-serif" stroke="#000" stroke-width="0.3" font-size="12.5" text-anchor="middle">No.12</text>
<text x="386.21" y="374.8" font-family="Liberation Sans, Arial, sans-serif" stroke="#000" stroke-width="0.3" font-size="12.5" text-anchor="middle">No.14</text>
<text x="433.35" y="374.8" font-family="Liberation Sans, Arial, sans-serif" stroke="#000" stroke-width="0.3" font-size="12.5" text-anchor="middle">No.16</text>
<text x="480.49" y="374.8" font-family="Liberation Sans, Arial, sans-serif" stroke="#000" stroke-width="0.3" font-size="12.5" text-anchor="middle">No.18</text>
<text x="291.6" y="402.9" font-family="Liberation Sans, Arial, sans-serif" stroke="#000" stroke-width="0.3" font-size="14.6" text-anchor="middle">Construction Stage</text>
<text transform="translate(18.3 183.2) rotate(-90)" font-family="Liberation Sans, Arial, sans-serif" stroke="#000" stroke-width="0.3" font-size="14.4" text-anchor="middle">Arch Rib Displacement(mm)</text>
<rect x="490.6" y="21.8" width="55.8" height="252.6" fill="#fff" stroke="#3a3a3a" stroke-width="1.2"/>
<line x1="491.2" y1="29.40" x2="519.7" y2="29.40" stroke="#7e7e7e" stroke-width="1.0"/>
<rect x="501.60" y="25.80" width="7.20" height="7.20" fill="#454545" stroke="#2a2a2a" stroke-width="0.6"/>
<text x="523.8" y="33.60" font-family="Liberation Sans, Arial, sans-serif" stroke="#000" stroke-width="0.3" font-size="12.3">1#</text>
<line x1="491.2" y1="45.20" x2="519.7" y2="45.20" stroke="#f08a8a" stroke-width="1.0"/>
<circle cx="505.20" cy="45.20" r="4.5" fill="#ec3a3a"/>
<text x="523.8" y="49.40" font-family="Liberation Sans, Arial, sans-serif" stroke="#000" stroke-width="0.3" font-size="12.3">2#</text>
<line x1="491.2" y1="61.00" x2="519.7" y2="61.00" stroke="#5c90e8" stroke-width="1.0"/>
<polygon points="505.20,55.50 510.50,64.80 499.90,64.80" fill="#1f62e0"/>
<text x="523.8" y="65.20" font-family="Liberation Sans, Arial, sans-serif" stroke="#000" stroke-width="0.3" font-size="12.3">3#</text>
<line x1="491.2" y1="76.80" x2="519.7" y2="76.80" stroke="#5cb884" stroke-width="1.0"/>
<polygon points="505.20,82.30 510.50,73.00 499.90,73.00" fill="#2ea35e"/>
<text x="523.8" y="81.00" font-family="Liberation Sans, Arial, sans-serif" stroke="#000" stroke-width="0.3" font-size="12.3">4#</text>
<line x1="491.2" y1="92.60" x2="519.7" y2="92.60" stroke="#b888ea" stroke-width="1.0"/>
<polygon points="505.20,87.40 510.40,92.60 505.20,97.80 500.00,92.60" fill="#b06ee6"/>
<text x="523.8" y="96.80" font-family="Liberation Sans, Arial, sans-serif" stroke="#000" stroke-width="0.3" font-size="12.3">5#</text>
<line x1="491.2" y1="108.40" x2="519.7" y2="108.40" stroke="#d6a43a" stroke-width="1.0"/>
<polygon points="499.70,108.40 509.00,103.10 509.00,113.70" fill="#d0971a"/>
<text x="523.8" y="112.60" font-family="Liberation Sans, Arial, sans-serif" stroke="#000" stroke-width="0.3" font-size="12.3">6#</text>
<line x1="491.2" y1="124.20" x2="519.7" y2="124.20" stroke="#48d0d6" stroke-width="1.0"/>
<polygon points="510.70,124.20 501.40,118.90 501.40,129.50" fill="#1fc6cc"/>
<text x="523.8" y="128.40" font-family="Liberation Sans, Arial, sans-serif" stroke="#000" stroke-width="0.3" font-size="12.3">7#</text>
<line x1="491.2" y1="140.00" x2="519.7" y2="140.00" stroke="#9c7474" stroke-width="1.0"/>
<polygon points="505.20,144.70 501.13,142.35 501.13,137.65 505.20,135.30 509.27,137.65 509.27,142.35" fill="#7a4a4a"/>
<text x="523.8" y="144.20" font-family="Liberation Sans, Arial, sans-serif" stroke="#000" stroke-width="0.3" font-size="12.3">8#</text>
<line x1="491.2" y1="155.80" x2="519.7" y2="155.80" stroke="#b2b258" stroke-width="1.0"/>
<polygon points="505.20,151.00 506.67,154.38 510.34,154.73 507.58,157.17 508.37,160.77 505.20,158.90 502.03,160.77 502.82,157.17 500.06,154.73 503.73,154.38" fill="#80801a"/>
<text x="523.8" y="160.00" font-family="Liberation Sans, Arial, sans-serif" stroke="#000" stroke-width="0.3" font-size="12.3">9#</text>
<line x1="491.2" y1="171.60" x2="519.7" y2="171.60" stroke="#f78c56" stroke-width="1.0"/>
<polygon points="505.20,167.00 510.05,170.52 508.20,176.23 502.20,176.23 500.35,170.52" fill="#ff6212"/>
<text x="523.8" y="175.80" font-family="Liberation Sans, Arial, sans-serif" stroke="#000" stroke-width="0.3" font-size="12.3">10#</text>
<line x1="491.2" y1="187.40" x2="519.7" y2="187.40" stroke="#8ab0e0" stroke-width="1.0"/>
<circle cx="505.20" cy="187.40" r="4.5" fill="url(#sph)"/>
<text x="523.8" y="191.60" font-family="Liberation Sans, Arial, sans-serif" stroke="#000" stroke-width="0.3" font-size="12.3">11#</text>
<line x1="491.2" y1="203.20" x2="519.7" y2="203.20" stroke="#84c866" stroke-width="1.0"/>
<path d="M500.60 203.20H509.80M505.20 198.60V207.80" stroke="#6cbf3c" stroke-width="1.1" fill="none"/>
<text x="523.8" y="207.40" font-family="Liberation Sans, Arial, sans-serif" stroke="#000" stroke-width="0.3" font-size="12.3">12#</text>
<line x1="491.2" y1="219.00" x2="519.7" y2="219.00" stroke="#a0a0a0" stroke-width="1.0"/>
<path d="M500.90 214.70L509.50 223.30M500.90 223.30L509.50 214.70" stroke="#404040" stroke-width="1.2" fill="none"/>
<text x="523.8" y="223.20" font-family="Liberation Sans, Arial, sans-serif" stroke="#000" stroke-width="0.3" font-size="12.3">13#</text>
<line x1="491.2" y1="234.80" x2="519.7" y2="234.80" stroke="#f07474" stroke-width="1.0"/>
<path d="M500.90 230.50L509.50 239.10M500.90 239.10L509.50 230.50M505.20 229.90V239.70" stroke="#f03232" stroke-width="1.1" fill="none"/>
<text x="523.8" y="239.00" font-family="Liberation Sans, Arial, sans-serif" stroke="#000" stroke-width="0.3" font-size="12.3">14#</text>
<line x1="491.2" y1="250.60" x2="519.7" y2="250.60" stroke="#5288e2" stroke-width="1.0"/>
<text x="523.8" y="254.80" font-family="Liberation Sans, Arial, sans-serif" stroke="#000" stroke-width="0.3" font-size="12.3">15#</text>
<line x1="491.2" y1="266.40" x2="519.7" y2="266.40" stroke="#52b276" stroke-width="1.0"/>
<path d="M505.20 262.40V270.40" stroke="#3aad6a" stroke-width="1.1" fill="none"/>
<text x="523.8" y="270.60" font-family="Liberation Sans, Arial, sans-serif" stroke="#000" stroke-width="0.3" font-size="12.3">16#</text>
</svg>
</body></html>
